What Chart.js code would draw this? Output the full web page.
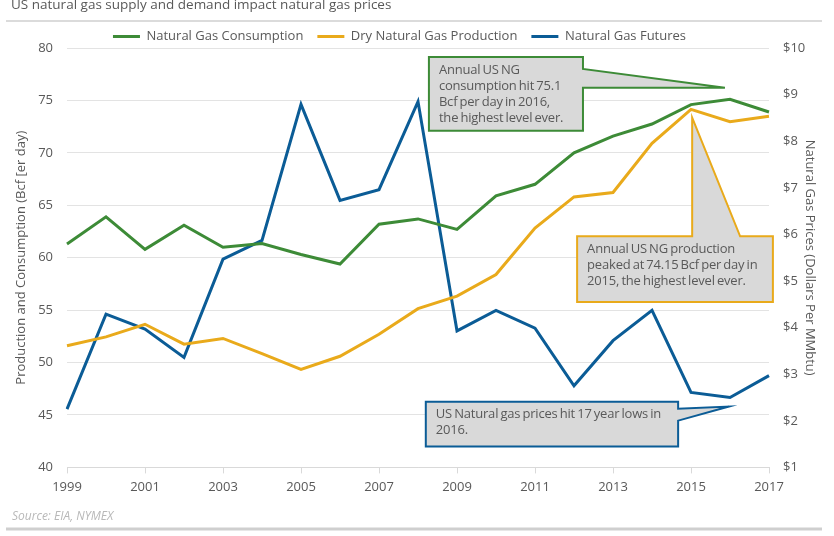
<!DOCTYPE html>
<html>
<head>
<meta charset="utf-8">
<script src="https://cdn.jsdelivr.net/npm/chart.js@4/dist/chart.umd.min.js"></script>
<style>
  html, body { margin: 0; padding: 0; background: #ffffff; }
  #wrap { width: 834px; height: 536px; position: relative; }
</style>
</head>
<body>
<div id="wrap"><canvas id="gasChart" width="834" height="536"></canvas></div>
<script>
var years = ['1999','2000','2001','2002','2003','2004','2005','2006','2007','2008',
             '2009','2010','2011','2012','2013','2014','2015','2016','2017'];
var consumption = [61.3, 63.9, 60.8, 63.1, 61.0, 61.35, 60.3, 59.4, 63.2, 63.7,
                   62.7, 65.9, 67.0, 70.0, 71.6, 72.75, 74.6, 75.1, 73.9];
var production  = [51.6, 52.45, 53.65, 51.75, 52.3, 50.86, 49.34, 50.6, 52.7, 55.14,
                   56.34, 58.4, 62.83, 65.8, 66.22, 70.9, 74.15, 72.97, 73.5];
var futures     = [2.25, 4.29, 3.97, 3.36, 5.47, 5.87, 8.79, 6.73, 6.96, 8.85,
                   3.93, 4.37, 3.99, 2.75, 3.72, 4.37, 2.61, 2.50, 2.97];

var green  = '#3d8b37';
var yellow = '#e9aa1b';
var blue   = '#0b5c96';
var txt    = '#595959';

// callout boxes: x in category index, y in left axis units
var callouts = [
  { color: green, box: [9.28, 79.14, 13.23, 72.11], side: 'right', wedge: [78.0, 76.2], tip: [16.87, 76.2],
    lines: ['Annual US NG', 'consumption hit 75.1', 'Bcf per day in 2016,', 'the highest level ever.'] },
  { color: yellow, box: [13.08, 62.04, 18.1, 55.77], side: 'top', wedge: [16.03, 17.26], tip: [16.03, 73.35],
    lines: ['Annual US NG production', 'peaked at 74.15 Bcf per day in', '2015, the highest level ever.'] },
  { color: blue, box: [9.2, 46.27, 15.67, 42.0], side: 'right', wedge: [45.6, 44.46], tip: [16.97, 45.8],
    lines: ['US Natural gas prices hit 17 year lows in', '2016.'] }
];

var frame = {
  id: 'frame',
  beforeInit: function(chart) {
    var fit = chart.legend.fit;
    chart.legend.fit = function() {
      fit.call(this);
      this.height -= 5;
    };
  },
  afterLayout: function(chart) {
    chart.legend.left -= 16;
    chart.legend.right -= 16;
  },
  afterDatasetsDraw: function(chart) {
    var ctx = chart.ctx;
    var xs  = chart.scales.x;
    var ys  = chart.scales.y;
    callouts.forEach(function(c) {
      var x1 = xs.getPixelForValue(c.box[0]), y1 = ys.getPixelForValue(c.box[1]);
      var x2 = xs.getPixelForValue(c.box[2]), y2 = ys.getPixelForValue(c.box[3]);
      var tx = xs.getPixelForValue(c.tip[0]), ty = ys.getPixelForValue(c.tip[1]);
      ctx.save();
      ctx.beginPath();
      ctx.moveTo(x1, y1);
      if (c.side === 'top') {
        var wa = xs.getPixelForValue(c.wedge[0]), wb = xs.getPixelForValue(c.wedge[1]);
        ctx.lineTo(wa, y1); ctx.lineTo(tx, ty); ctx.lineTo(wb, y1);
        ctx.lineTo(x2, y1); ctx.lineTo(x2, y2);
      } else {
        var ya = ys.getPixelForValue(c.wedge[0]), yb = ys.getPixelForValue(c.wedge[1]);
        ctx.lineTo(x2, y1); ctx.lineTo(x2, ya); ctx.lineTo(tx, ty);
        ctx.lineTo(x2, yb); ctx.lineTo(x2, y2);
      }
      ctx.lineTo(x1, y2);
      ctx.closePath();
      ctx.fillStyle = '#d9d9d9';
      ctx.fill();
      ctx.strokeStyle = c.color;
      ctx.lineWidth = 2;
      ctx.stroke();
      ctx.fillStyle = txt;
      ctx.font = '13px "Open Sans"';
      ctx.wordSpacing = '-1px';
      ctx.letterSpacing = '-0.2px';
      ctx.textBaseline = 'middle';
      ctx.textAlign = 'left';
      for (var i = 0; i < c.lines.length; i++) {
        ctx.fillText(c.lines[i], x1 + 10, y1 + 13 + i * 16);
      }
      ctx.restore();
    });

    // title, rules and source
    ctx.save();
    ctx.fillStyle = txt;
    ctx.font = '13.5px "Open Sans"';
    ctx.textBaseline = 'middle';
    ctx.fillText('US natural gas supply and demand impact natural gas prices', 11, 5);
    ctx.strokeStyle = '#cfcfcf';
    ctx.lineWidth = 1.5;
    ctx.beginPath(); ctx.moveTo(6, 21); ctx.lineTo(822, 21); ctx.stroke();
    ctx.lineWidth = 3;
    ctx.beginPath(); ctx.moveTo(6, 529); ctx.lineTo(822, 529); ctx.stroke();
    ctx.fillStyle = '#b8b8b8';
    ctx.font = 'italic 12px "Open Sans"';
    ctx.fillText('Source: EIA, NYMEX', 12, 517);
    ctx.restore();
  }
};

var ctx = document.getElementById('gasChart').getContext('2d');
var chart = new Chart(ctx, {
  type: 'line',
  data: {
    labels: years,
    datasets: [
      { label: 'Natural Gas Consumption', data: consumption, yAxisID: 'y',
        borderColor: green, backgroundColor: green, borderWidth: 3, pointRadius: 0, tension: 0, fill: false },
      { label: 'Dry Natural Gas Production', data: production, yAxisID: 'y',
        borderColor: yellow, backgroundColor: yellow, borderWidth: 3, pointRadius: 0, tension: 0, fill: false },
      { label: 'Natural Gas Futures', data: futures, yAxisID: 'y1',
        borderColor: blue, backgroundColor: blue, borderWidth: 3, pointRadius: 0, tension: 0, fill: false }
    ]
  },
  options: {
    responsive: false,
    animation: false,
    layout: { padding: { top: 16, bottom: 35, left: 11, right: 14 } },
    plugins: {
      legend: {
        position: 'top',
        labels: {
          usePointStyle: true,
          pointStyle: 'line',
          pointStyleWidth: 27,
          boxHeight: 13,
          padding: 14,
          color: txt,
          font: { family: 'Open Sans', size: 13 }
        }
      },
      tooltip: { enabled: false }
    },
    scales: {
      x: {
        offset: false,
        border: { color: '#d9d9d9' },
        grid: {
          drawOnChartArea: false,
          tickLength: 6,
          color: function(c) { return c.index % 2 === 0 ? '#d9d9d9' : 'rgba(0,0,0,0)'; }
        },
        ticks: {
          autoSkip: false,
          maxRotation: 0,
          padding: 6,
          color: txt,
          font: { family: 'Open Sans', size: 13 },
          callback: function(v, i) { return i % 2 === 0 ? years[i] : ''; }
        }
      },
      y: {
        position: 'left',
        min: 40, max: 80,
        border: { display: false },
        grid: { color: '#e3e3e3', drawTicks: false },
        afterFit: function(scale) { scale.width = 56; },
        ticks: { stepSize: 5, padding: 14, color: txt, font: { family: 'Open Sans', size: 13 } },
        title: { display: true, text: 'Production and Consumption (Bcf [er day)', color: txt,
                 font: { family: 'Open Sans', size: 13 }, padding: 2 }
      },
      y1: {
        position: 'right',
        min: 1, max: 10,
        border: { display: false },
        grid: { display: false, drawTicks: false },
        afterFit: function(scale) { scale.width = 51; },
        ticks: { stepSize: 1, padding: 14, color: txt, font: { family: 'Open Sans', size: 13 },
                 callback: function(v) { return '$' + v; } },
        title: { display: true, text: 'Natural Gas Prices (Dollars Per MMbtu)', color: txt,
                 font: { family: 'Open Sans', size: 13 }, padding: 2 }
      }
    }
  },
  plugins: [frame]
});
</script>
</body>
</html>
